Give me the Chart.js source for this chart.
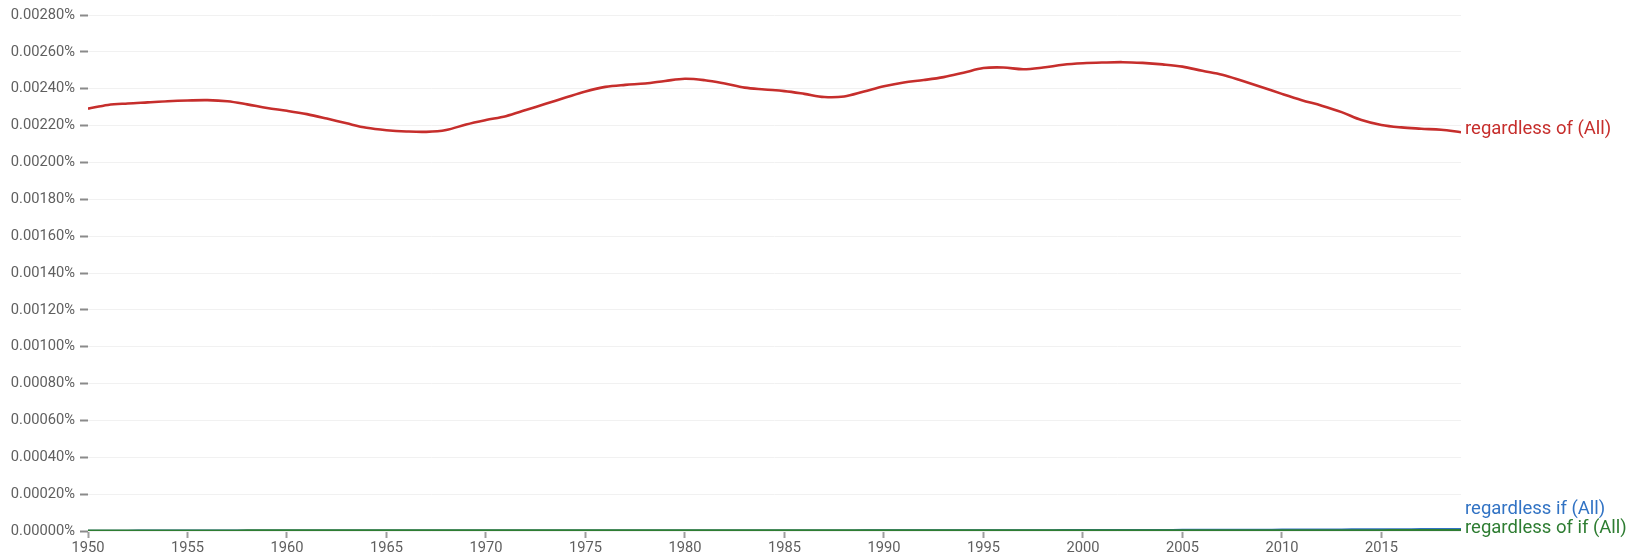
<!DOCTYPE html>
<html>
<head>
<meta charset="utf-8">
<script src="https://cdn.jsdelivr.net/npm/chart.js@4.4.0/dist/chart.umd.min.js"></script>
<style>
  body { margin: 0; background: #fff; }
  #wrap { width: 1631px; height: 558px; }
</style>
</head>
<body>
<div id="wrap"><canvas id="myChart" width="1631" height="558"></canvas></div>
<script>
const years = [
  1950, 1951, 1952, 1953, 1954, 1955, 1956, 1957, 1958, 1959,
  1960, 1961, 1962, 1963, 1964, 1965, 1966, 1967, 1968, 1969,
  1970, 1971, 1972, 1973, 1974, 1975, 1976, 1977, 1978, 1979,
  1980, 1981, 1982, 1983, 1984, 1985, 1986, 1987, 1988, 1989,
  1990, 1991, 1992, 1993, 1994, 1995, 1996, 1997, 1998, 1999,
  2000, 2001, 2002, 2003, 2004, 2005, 2006, 2007, 2008, 2009,
  2010, 2011, 2012, 2013, 2014, 2015, 2016, 2017, 2018, 2019
];

// values in percent
const regardlessOf = [
  0.002292, 0.002312, 0.002320, 0.002326, 0.002332, 0.002336, 0.002338, 0.002332, 0.002315, 0.002295,
  0.002280, 0.002262, 0.002238, 0.002212, 0.002188, 0.002175, 0.002168, 0.002166, 0.002176, 0.002206,
  0.002230, 0.002251, 0.002284, 0.002318, 0.002352, 0.002385, 0.002410, 0.002421, 0.002428, 0.002442,
  0.002454, 0.002446, 0.002428, 0.002406, 0.002396, 0.002387, 0.002372, 0.002355, 0.002358, 0.002385,
  0.002413, 0.002434, 0.002447, 0.002463, 0.002487, 0.002512, 0.002515, 0.002506, 0.002515, 0.002530,
  0.002538, 0.002542, 0.002544, 0.002540, 0.002532, 0.002520, 0.002497, 0.002476, 0.002443, 0.002408,
  0.002372, 0.002338, 0.002308, 0.002273, 0.002230, 0.002203, 0.002190, 0.002183, 0.002177, 0.002164
];

const regardlessIf = [
  0.0000004, 0.0000004, 0.0000004, 0.0000005, 0.0000005, 0.0000005, 0.0000005, 0.0000005, 0.0000005, 0.0000005,
  0.0000005, 0.0000005, 0.0000006, 0.0000006, 0.0000006, 0.0000006, 0.0000006, 0.0000007, 0.0000007, 0.0000007,
  0.0000007, 0.0000008, 0.0000008, 0.0000008, 0.0000009, 0.0000009, 0.0000010, 0.0000010, 0.0000011, 0.0000011,
  0.0000012, 0.0000012, 0.0000013, 0.0000013, 0.0000014, 0.0000015, 0.0000015, 0.0000016, 0.0000017, 0.0000018,
  0.0000019, 0.0000020, 0.0000021, 0.0000022, 0.0000023, 0.0000025, 0.0000026, 0.0000028, 0.0000030, 0.0000032,
  0.0000034, 0.0000036, 0.0000038, 0.0000040, 0.0000042, 0.0000045, 0.0000047, 0.0000050, 0.0000053, 0.0000056,
  0.0000059, 0.0000062, 0.0000066, 0.0000070, 0.0000074, 0.0000078, 0.0000082, 0.0000086, 0.0000090, 0.0000094
];

const regardlessOfIf = [
  0.0000015, 0.0000015, 0.0000016, 0.0000016, 0.0000016, 0.0000017, 0.0000017, 0.0000017, 0.0000018, 0.0000018,
  0.0000018, 0.0000018, 0.0000019, 0.0000019, 0.0000019, 0.0000019, 0.0000020, 0.0000020, 0.0000020, 0.0000020,
  0.0000021, 0.0000021, 0.0000021, 0.0000021, 0.0000022, 0.0000022, 0.0000022, 0.0000022, 0.0000023, 0.0000023,
  0.0000023, 0.0000023, 0.0000024, 0.0000024, 0.0000024, 0.0000024, 0.0000025, 0.0000025, 0.0000025, 0.0000025,
  0.0000026, 0.0000026, 0.0000026, 0.0000026, 0.0000027, 0.0000027, 0.0000027, 0.0000027, 0.0000028, 0.0000028,
  0.0000028, 0.0000028, 0.0000029, 0.0000029, 0.0000029, 0.0000029, 0.0000030, 0.0000030, 0.0000030, 0.0000030,
  0.0000030, 0.0000031, 0.0000031, 0.0000031, 0.0000031, 0.0000031, 0.0000032, 0.0000032, 0.0000032, 0.0000032
];

const seriesNames = ['regardless of (All)', 'regardless if (All)', 'regardless of if (All)'];
const seriesColors = ['#c62e2c', '#3273c4', '#2e7d32'];

const xTicks = [1950, 1955, 1960, 1965, 1970, 1975, 1980, 1985, 1990, 1995, 2000, 2005, 2010, 2015];
const yTicks = [0, 0.0002, 0.0004, 0.0006, 0.0008, 0.0010, 0.0012, 0.0014, 0.0016, 0.0018, 0.0020, 0.0022, 0.0024, 0.0026, 0.0028];

const toPoints = (vals) => years.map((y, i) => ({ x: y, y: vals[i] }));

// names next to the end of each line, pushed apart when they overlap
const endLabels = {
  id: 'endLabels',
  afterDatasetsDraw(chart) {
    const ctx = chart.ctx;
    const yScale = chart.scales.y;
    let labels = chart.data.datasets.map((ds, i) => ({
      text: seriesNames[i],
      color: seriesColors[i],
      y: yScale.getPixelForValue(ds.data[ds.data.length - 1].y) - 2.5
    }));
    labels.sort((a, b) => b.y - a.y);
    for (let i = 1; i < labels.length; i++) {
      if (labels[i - 1].y - labels[i].y < 19) {
        labels[i].y = labels[i - 1].y - 19;
      }
    }
    ctx.save();
    ctx.font = '18.5px Roboto';
    ctx.textBaseline = 'middle';
    ctx.textAlign = 'left';
    labels.forEach(l => {
      ctx.fillStyle = l.color;
      ctx.fillText(l.text, chart.chartArea.right + 4, l.y);
    });
    ctx.restore();
  }
};

const ctx = document.getElementById('myChart');
const myChart = new Chart(ctx, {
  type: 'line',
  data: {
    datasets: [
      { data: toPoints(regardlessOf), borderColor: seriesColors[0], borderWidth: 2.6, order: 2 },
      { data: toPoints(regardlessIf), borderColor: seriesColors[1], borderWidth: 2.6, order: 1 },
      { data: toPoints(regardlessOfIf), borderColor: seriesColors[2], borderWidth: 2.6, order: 0 }
    ]
  },
  options: {
    responsive: false,
    animation: false,
    events: [],
    elements: {
      point: { radius: 0 },
      line: { tension: 0.35, fill: false }
    },
    layout: { padding: { top: 15, right: 170, bottom: 0, left: 0 } },
    plugins: {
      legend: { display: false },
      tooltip: { enabled: false }
    },
    scales: {
      x: {
        type: 'linear',
        min: 1950,
        max: 2019,
        afterBuildTicks: (scale) => { scale.ticks = xTicks.map(v => ({ value: v })); },
        afterFit: (scale) => { scale.height = 27; },
        grid: {
          color: 'rgba(0,0,0,0)',
          tickColor: '#9e9e9e',
          tickLength: 7,
          tickWidth: 2
        },
        border: { display: false },
        ticks: {
          padding: 2,
          maxRotation: 0,
          autoSkip: false,
          color: '#5f5f5f',
          font: { family: 'Roboto', size: 14.7 },
          callback: (v) => String(v)
        }
      },
      y: {
        min: 0,
        max: 0.0028,
        afterBuildTicks: (scale) => { scale.ticks = yTicks.map(v => ({ value: v })); },
        afterFit: (scale) => { scale.width = 88; },
        grid: {
          color: '#f1f1f1',
          lineWidth: 1,
          tickColor: '#8a8a8a',
          tickLength: 8,
          tickWidth: 2
        },
        border: { display: false },
        ticks: {
          padding: 5,
          autoSkip: false,
          color: '#5f5f5f',
          font: { family: 'Roboto', size: 14.7 },
          callback: (v) => v.toFixed(5) + '%'
        }
      }
    }
  },
  plugins: [endLabels]
});
</script>
</body>
</html>
